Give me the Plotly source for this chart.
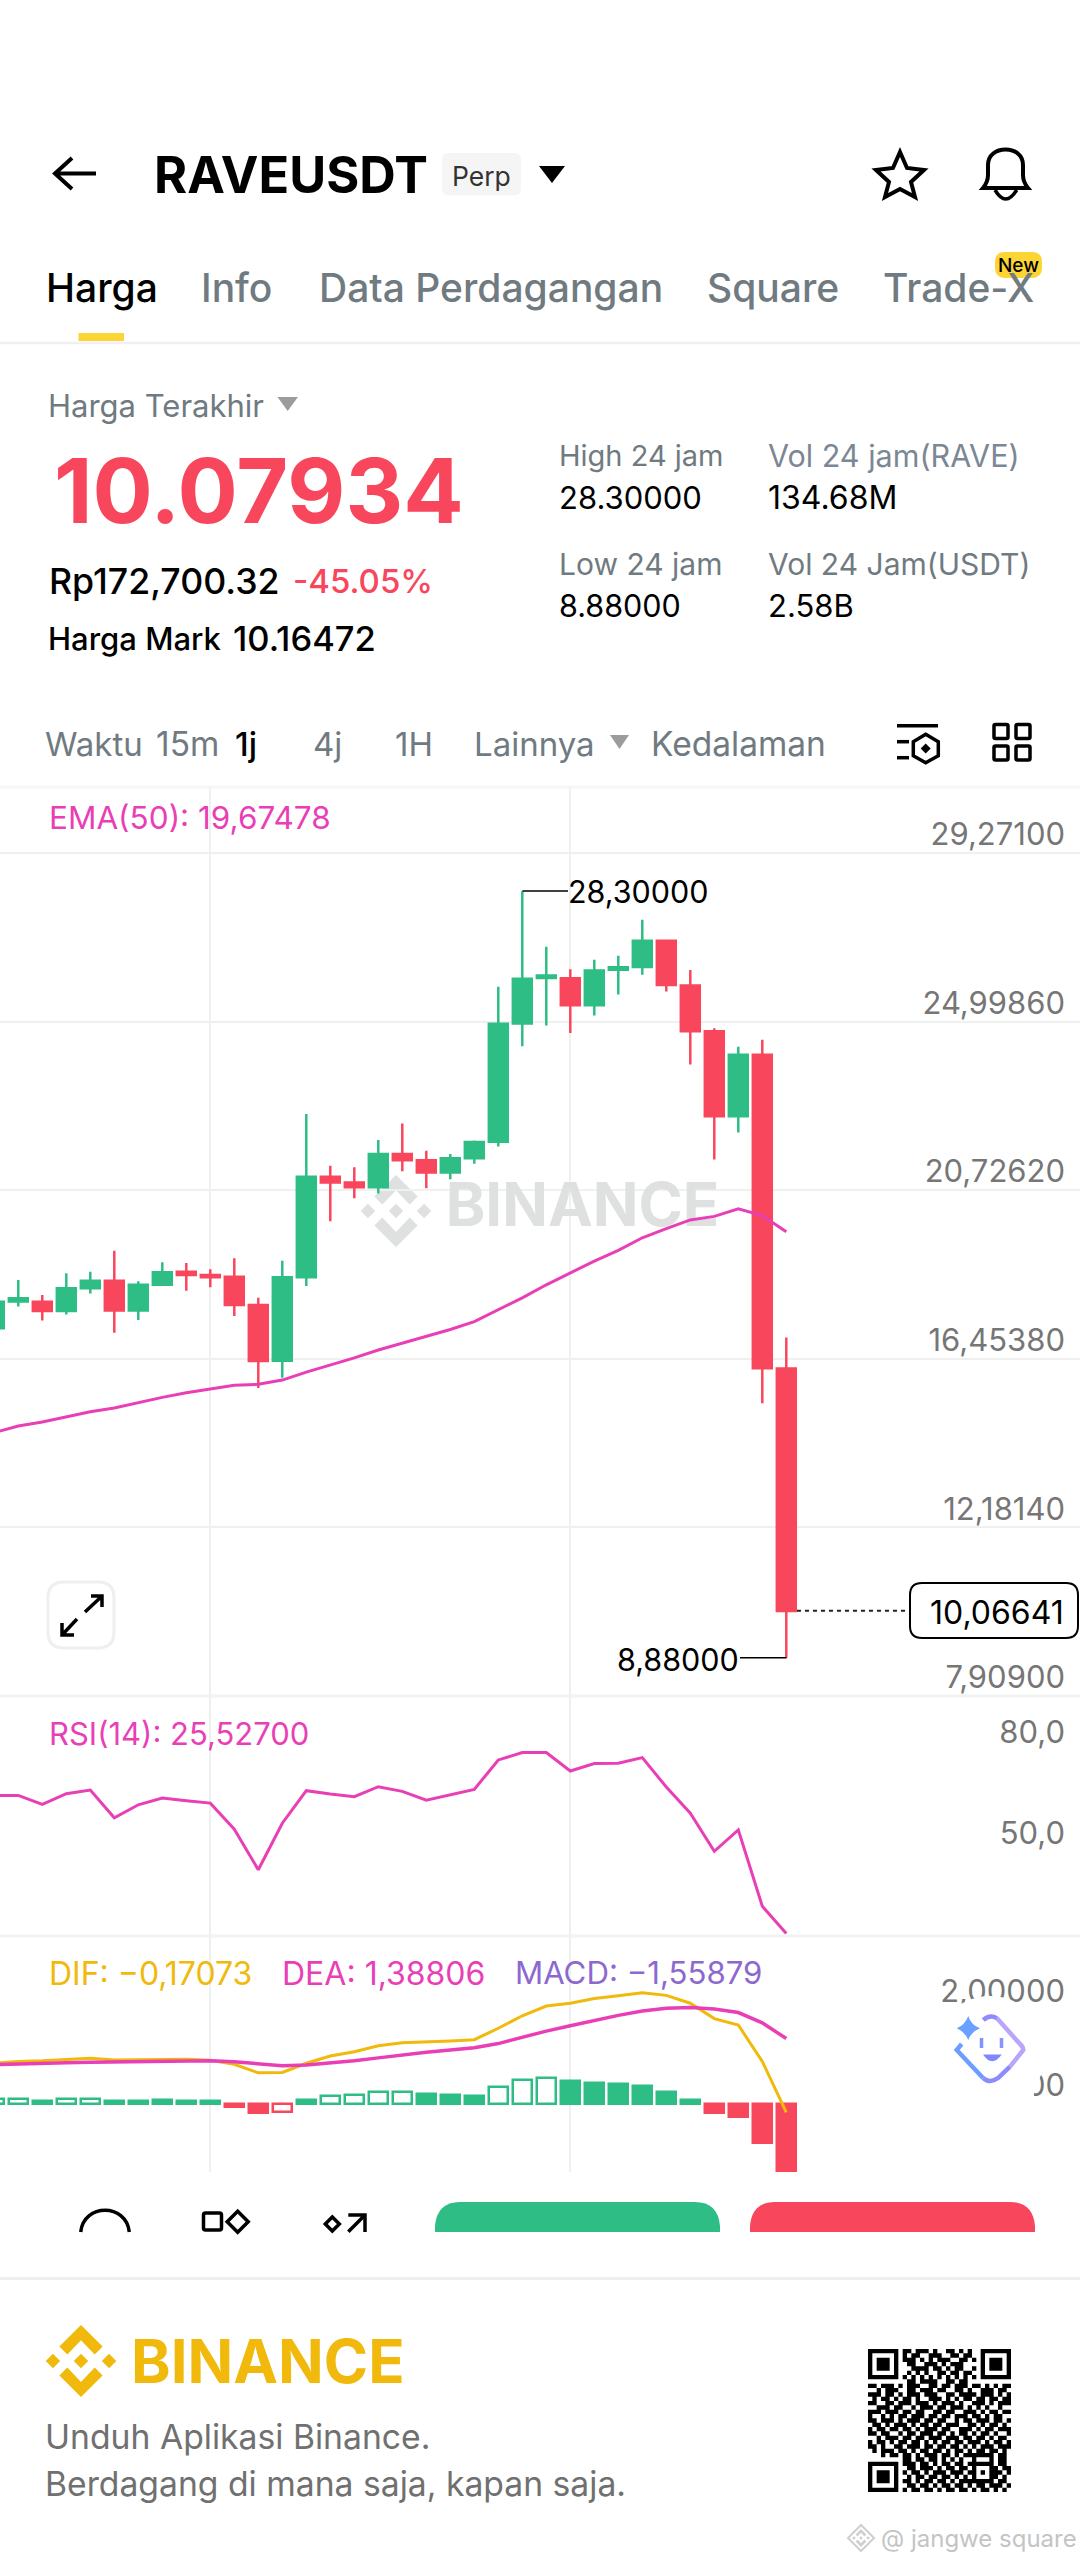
import re
import plotly.graph_objs as go
from plotly.subplots import make_subplots

W = 1080
H = 2562

# candles (values in USDT)
candle_idx = list(range(34))
candle_open = [17.227, 17.908, 17.898, 17.668, 18.239, 18.429, 17.678, 18.329, 18.66, 18.58, 18.53, 17.818,
               16.405, 18.519, 21.065, 20.924, 20.804, 21.646, 21.486, 21.175, 21.536, 21.956, 24.952, 26.105,
               26.095, 25.413, 26.315, 26.385, 27.047, 25.914, 24.752, 22.598, 24.161, 16.205]
candle_close = [17.898, 17.988, 17.668, 18.239, 18.429, 17.678, 18.329, 18.65, 18.58, 18.519, 17.818, 16.395,
                18.519, 21.065, 20.924, 20.804, 21.646, 21.486, 21.175, 21.536, 21.946, 24.942, 26.085, 26.165,
                25.413, 26.295, 26.375, 27.047, 25.924, 24.752, 22.598, 24.161, 16.215, 10.066]
candle_high = [18.0, 18.449, 18.069, 18.62, 18.66, 19.191, 18.419, 18.9, 18.88, 18.72, 19.0, 17.998,
               18.94, 22.658, 21.345, 21.305, 21.997, 22.417, 21.726, 21.646, 21.986, 25.884, 28.3, 26.896,
               26.325, 26.566, 26.666, 27.578, 27.047, 26.305, 24.832, 24.361, 24.541, 16.996]
candle_low = [17.0, 17.778, 17.427, 17.578, 18.109, 17.117, 17.437, 18.299, 18.179, 18.269, 17.538, 15.714,
              15.974, 18.299, 19.942, 20.524, 20.644, 21.205, 20.774, 21.005, 21.395, 21.836, 24.371, 24.902,
              24.712, 25.153, 25.684, 26.185, 25.764, 23.91, 21.506, 22.187, 15.33, 8.88]
ema50 = [14.585, 14.75, 14.851, 14.986, 15.112, 15.206, 15.351, 15.477, 15.594, 15.695, 15.781, 15.807,
         15.914, 16.115, 16.295, 16.476, 16.676, 16.856, 17.017, 17.197, 17.397, 17.698, 17.998, 18.329,
         18.63, 18.93, 19.2, 19.521, 19.752, 19.972, 20.063, 20.253, 20.083, 19.675]
rsi14 = [66.8, 66.8, 64.1, 67.3, 68.4, 60.1, 64.0, 66.0, 65.2, 64.5, 56.7, 44.6, 58.5, 68.2, 67.2, 66.4, 69.4,
         68.0, 65.4, 67.0, 68.6, 77.4, 79.6, 79.6, 74.1, 76.3, 76.4, 78.1, 69.3, 61.5, 50.1, 56.5, 33.7, 25.527]
dif = [0.867, 0.905, 0.92, 0.943, 0.973, 0.935, 0.935, 0.95, 0.95, 0.928, 0.845, 0.664, 0.671, 0.867, 1.018,
       1.109, 1.237, 1.297, 1.312, 1.335, 1.365, 1.606, 1.87, 2.074, 2.134, 2.232, 2.293, 2.353, 2.3, 2.134,
       1.81, 1.674, 0.905, -0.171]
dea = [0.837, 0.845, 0.86, 0.875, 0.89, 0.897, 0.905, 0.913, 0.92, 0.92, 0.897, 0.852, 0.814, 0.83, 0.867, 0.92,
       0.98, 1.048, 1.101, 1.146, 1.192, 1.282, 1.418, 1.546, 1.659, 1.772, 1.878, 1.968, 2.029, 2.044, 2.014,
       1.938, 1.719, 1.388]
macd = [0.106, 0.106, 0.06, 0.106, 0.106, 0.06, 0.06, 0.098, 0.06, 0.06, -0.06, -0.189, -0.166, 0.09, 0.166,
        0.204, 0.264, 0.264, 0.211, 0.189, 0.173, 0.362, 0.505, 0.558, 0.483, 0.46, 0.422, 0.385, 0.264, 0.083,
        -0.189, -0.271, -0.814, -1.55879]
macd_hollow = [1, 1, 0, 1, 1, 0, 0, 0, 0, 0, 0, 0, 1, 0, 1, 1, 1, 1, 0, 0, 0, 1, 1, 1, 0, 0, 0, 0, 0, 0, 0, 0, 0, 0]

price_ticks = [29.271, 24.9986, 20.7262, 16.4538, 12.1814, 7.909]
price_labels = ["29,27100", "24,99860", "20,72620", "16,45380", "12,18140", "7,90900"]
rsi_ticks = [80, 50]
rsi_labels = ["80,0", "50,0"]
macd_ticks = [2, 0]
macd_labels = ["2,00000", "0,00000"]
grid_idx = [9, 24]

qr_rows = [
    "111111101101110100110101001111111",
    "100000101011001110011011001000001",
    "101110101110101011100110101011101",
    "101110100110011101011100001011101",
    "101110100011110110101100101011101",
    "100000100101010011011011001000001",
    "111111101010101010101010101111111",
    "000000000110111100110110000000000",
    "110111010111001101101110110101011",
    "001011100110111011001101001110110",
    "111011010111011100110111101110101",
    "010110101101001110101011011011011",
    "110011011101110101110100111010111",
    "001110110010111011011101010100100",
    "111011101101100110110011101011011",
    "100101011011101101101110110101100",
    "110111010111011011001011011101101",
    "011010111010110110111001101011010",
    "101101101101011101100111010110111",
    "110110010110111011010110101101001",
    "001011101101101110111011011010110",
    "101101011011010101101101110101101",
    "110100110111011011011010101110111",
    "010111011010110110101101011011010",
    "000101101101011101101011111110110",
    "000000001101101101010100100010110",
    "111111101110110101101101111110110",
    "100000100110111010110110100011011",
    "101110101011010111011101101011101",
    "101110100101101101101010100011010",
    "101110101101011011010111111110110",
    "100000100110110101101101011011101",
    "111111101011011010110110101101010",
]

GREEN = "#2EBD85"
RED = "#F8465C"
PINK = "#E93FB6"
YELLOW = "#F0B90B"
PURPLE = "#8C68CF"
GRID = "#EFF1F1"
GREY = "#707A81"
AXIS_GREY = "#767676"
FONT = "Inter"


# pixel helpers, the whole page is one figure
def px(x):
    return x / W


def py(y):
    return 1 - y / H


def x_of(x):
    return (x + 5.7) / 24


def price_of(y):
    return 29.271 - (y - 853) / 39.46


def path(d):
    out = []
    n = 0
    for tok in re.findall(r"[MLQCZ]|-?[\d.]+", d):
        if tok in "MLQCZ":
            out.append(tok)
        else:
            out.append(f"{px(float(tok)):.5f}," if n % 2 == 0 else f"{py(float(tok)):.5f}")
            n += 1
    return " ".join(out).replace(", ", ",")


def rr(x0, y0, x1, y1, r):
    return (f"M {x0+r} {y0} L {x1-r} {y0} Q {x1} {y0} {x1} {y0+r} L {x1} {y1-r} Q {x1} {y1} {x1-r} {y1} "
            f"L {x0+r} {y1} Q {x0} {y1} {x0} {y1-r} L {x0} {y0+r} Q {x0} {y0} {x0+r} {y0} Z")


shapes = []
annots = []


def add(d, fill=None, line=None, width=0, layer="above", dash=None):
    s = dict(type="path", xref="paper", yref="paper", path=path(d), layer=layer,
             line=dict(color=line or "rgba(0,0,0,0)", width=width))
    if fill:
        s["fillcolor"] = fill
    if dash:
        s["line"]["dash"] = dash
    shapes.append(s)


def hline(x0, x1, y, color, width, dash=None):
    add(f"M {x0} {y} L {x1} {y}", line=color, width=width, dash=dash)


def diamond(cx, cy, r):
    return f"M {cx} {cy-r} L {cx+r} {cy} L {cx} {cy+r} L {cx-r} {cy} Z"


def logo(cx, cy, s, color, layer="above"):
    parts = [diamond(cx, cy, .2 * s), diamond(cx - .78 * s, cy, .2 * s), diamond(cx + .78 * s, cy, .2 * s)]
    for k in (1, -1):
        parts.append(f"M {cx} {cy-k*s} L {cx+.6*s} {cy-k*.4*s} L {cx+.38*s} {cy-k*.18*s} L {cx} {cy-k*.58*s} "
                     f"L {cx-.38*s} {cy-k*.18*s} L {cx-.6*s} {cy-k*.4*s} Z")
    add(" ".join(parts), fill=color, layer=layer)


def txt(text, x, y, size, color="#000000", anchor="left", weight=400):
    annots.append(dict(text=text, x=px(x), y=py(y), xref="paper", yref="paper", xanchor=anchor, yanchor="middle",
                       showarrow=False, borderpad=0, borderwidth=0,
                       font=dict(family=FONT, size=size, color=color, weight=weight)))


fig = make_subplots(rows=3, cols=1)

# watermark goes first so the lines sit on top of it
fig.add_trace(go.Scatter(x=[x_of(582.5)], y=[price_of(1211)], mode="text", text=["BINANCE"], hoverinfo="skip",
                         textfont=dict(family=FONT, size=60, color="#DEE1DF", weight=700)), row=1, col=1)
fig.add_trace(go.Candlestick(x=candle_idx, open=candle_open, high=candle_high, low=candle_low, close=candle_close,
                             increasing=dict(line=dict(color=GREEN, width=2.5), fillcolor=GREEN),
                             decreasing=dict(line=dict(color=RED, width=2.5), fillcolor=RED)), row=1, col=1)
fig.add_trace(go.Scatter(x=candle_idx, y=ema50, mode="lines", line=dict(color=PINK, width=3)), row=1, col=1)

fig.add_trace(go.Scatter(x=candle_idx, y=rsi14, mode="lines", line=dict(color=PINK, width=3)), row=2, col=1)

bar_line = [GREEN if v >= 0 else RED for v in macd]
bar_fill = ["#FFFFFF" if h else c for h, c in zip(macd_hollow, bar_line)]
fig.add_trace(go.Bar(x=candle_idx, y=macd, width=0.79,
                     marker=dict(color=bar_fill, line=dict(color=bar_line, width=2.5))), row=3, col=1)
fig.add_trace(go.Scatter(x=candle_idx, y=dif, mode="lines", line=dict(color=YELLOW, width=3)), row=3, col=1)
fig.add_trace(go.Scatter(x=candle_idx, y=dea, mode="lines", line=dict(color=PINK, width=3.5)), row=3, col=1)

x_common = dict(domain=[0, 1], range=[x_of(0), x_of(1080)], type="linear", tickmode="array", tickvals=grid_idx,
                showticklabels=False, ticks="", showgrid=True, gridcolor=GRID, gridwidth=2, zeroline=False,
                showline=False, rangeslider=dict(visible=False))
y_common = dict(side="right", tickmode="array", ticklabelposition="inside top", ticklabelstandoff=12,
                ticklabelshift=3, ticks="", zeroline=False, showline=False,
                tickfont=dict(family=FONT, size=31, color=AXIS_GREY))

fig.update_layout(
    width=W, height=H, autosize=False, margin=dict(l=0, r=0, t=0, b=0), showlegend=False,
    paper_bgcolor="#FFFFFF", plot_bgcolor="#FFFFFF", boxgap=0.21, boxgroupgap=0, bargap=0,
    xaxis=x_common, xaxis2=x_common, xaxis3=x_common,
    yaxis=dict(y_common, domain=[py(1696), py(788)], range=[7.909, price_of(788)], tickvals=price_ticks,
               ticktext=price_labels, showgrid=True, gridcolor=GRID, gridwidth=2),
    yaxis2=dict(y_common, domain=[py(1936), py(1696)], range=[24.8, 96.5], tickvals=rsi_ticks, ticktext=rsi_labels,
                showgrid=False),
    yaxis3=dict(y_common, domain=[py(2172), py(1936)], range=[-1.43, 3.554], tickvals=macd_ticks,
                ticktext=macd_labels, showgrid=False),
)

# header
add("M 96 173.5 L 56 173.5 M 72 158 L 55 173.5 L 72 189", line="#000000", width=4)
txt("RAVEUSDT", 154, 175, 50.5, weight=700)
add(rr(442, 153, 521, 195.5, 7), fill="#F5F5F5")
txt("Perp", 481.5, 176, 26.5, "#333333", "center")
add("M 539 166 L 565 166 L 552 183 Z", fill="#000000")
add("M 900 152 L 907 168 L 924 170 L 911 182 L 915 197 L 900 189 L 885 197 L 889 182 L 876 170 L 893 168 Z",
    line="#000000", width=4)
add("M 983 188 Q 988 182 988 175 L 988 165 C 988 155 996 149.5 1005.7 149.5 C 1015 149.5 1023 155 1023 165 "
    "L 1023 175 Q 1023 182 1028 188 Z", line="#000000", width=4)
add("M 995 190 Q 1005.7 208 1016.7 190", line="#000000", width=3.5)

# tabs
txt("Harga", 46, 287.5, 39, "#000000", weight=500)
txt("Info", 201, 287.5, 39, GREY, weight=500)
txt("Data Perdagangan", 318.5, 287.5, 39, GREY, weight=500)
txt("Square", 707, 287.5, 39, GREY, weight=500)
txt("Trade-X", 883, 287.5, 39, GREY, weight=500)
add(rr(995, 252, 1042, 278, 10), fill="#FCD535")
txt("New", 1018.5, 265.5, 19, "#000000", "center", 500)
add("M 78.5 333 L 124 333 L 124 341 L 78.5 341 Z", fill="#FCD535")
hline(0, 1080, 343, "#EEF0F1", 2.5)

# price block
txt("Harga Terakhir", 48, 405.7, 31, GREY)
add("M 277.5 397 L 298 397 L 287.7 411 Z", fill="#9C9C9C")
txt("10.07934", 54, 490, 89.5, RED, weight=700)
txt("Rp172,700.32", 49, 580.7, 35.7, "#000000", weight=500)
txt("-45.05%", 293, 580.7, 33, RED, weight=500)
txt("Harga Mark", 48, 638.7, 31, "#000000", weight=500)
txt("10.16472", 233, 638.7, 34.5, "#000000", weight=500)
txt("High 24 jam", 559, 455.5, 29, GREY)
txt("Vol 24 jam(RAVE)", 768, 455.5, 30.5, "#7B8794")
txt("28.30000", 559, 497.3, 31)
txt("134.68M", 768, 497.3, 32)
txt("Low 24 jam", 559, 564, 30, GREY)
txt("Vol 24 Jam(USDT)", 768, 564, 30, GREY)
txt("8.88000", 559, 605.5, 30.5)
txt("2.58B", 768, 605.5, 31)

# interval row
txt("Waktu", 45, 744.4, 33, GREY)
txt("15m", 156, 744.4, 33.5, GREY)
txt("1j", 235, 744.4, 33, "#000000", weight=500)
txt("4j", 313, 744.4, 33, GREY)
txt("1H", 395, 744.4, 33, GREY)
txt("Lainnya", 474, 744.4, 33, GREY)
add("M 610 735 L 629 735 L 619.5 749 Z", fill="#9C9C9C")
txt("Kedalaman", 651, 744.4, 33.5, GREY)
hline(897, 938, 725.7, "#000000", 3.5)
hline(897, 909, 741.7, "#000000", 3.5)
hline(897, 909, 757.7, "#000000", 3.5)
add("M 925.7 734.3 L 938.3 741.7 L 938.3 755.7 L 925.7 762.7 L 913.3 755.7 L 913.3 741.7 Z", line="#000000", width=3.5)
add(diamond(925.7, 748.5, 5), fill="#000000")
for gx in (994, 1016):
    for gy in (724.5, 746):
        add(rr(gx, gy, gx + 14, gy + 14, 1.5), line="#000000", width=3.5)

# panel separators
hline(0, 1080, 787, "#F5F6F6", 3)
hline(0, 1080, 1696, "#EFF3F2", 3)
hline(0, 1080, 1936, "#F0F3F3", 3)

# chart labels
txt("EMA(50): 19,67478", 49, 817.6, 31.5, PINK)
logo(396, 1211, 36, "#DEE1DF", "below")
hline(522.4, 568, 891, "#000000", 1.5)
txt("28,30000", 568, 891.5, 30.5)
hline(740, 786.6, 1657.7, "#000000", 1.5)
txt("8,88000", 739, 1659, 30.5, anchor="right")
hline(797, 910, 1610.7, "#222222", 2, dash="4px,4px")
add(rr(910, 1583, 1078, 1638, 12), fill="#FFFFFF", line="#000000", width=2)
txt("10,06641", 1064, 1612, 32, anchor="right")
add(rr(48, 1582, 114, 1648, 16), fill="#FFFFFF", line="#EFEFEF", width=3)
add("M 85 1612 L 101 1597 M 91 1596 L 102 1596 L 102 1607", line="#000000", width=3.5)
add("M 77 1619 L 63 1634 M 62 1623 L 62 1635 L 74 1635", line="#000000", width=3.5)
txt("RSI(14): 25,52700", 49, 1733.6, 31, PINK)
txt("DIF: \u22120,17073", 49, 1973, 32, YELLOW)
txt("DEA: 1,38806", 282, 1973, 32, PINK)
txt("MACD: \u22121,55879", 515, 1973, 31.2, PURPLE)

# assistant button, it hides part of the MACD axis labels
shapes.append(dict(type="circle", xref="paper", yref="paper", x0=px(934), x1=px(1046), y0=py(2108), y1=py(1996),
                   fillcolor="#FFFFFF", line=dict(width=0), layer="above"))
add("M 920 2060 L 1034 2060 L 1034 2108 L 920 2108 Z", fill="#FFFFFF")
add("M 961.7 2044 L 956.7 2050 L 983 2078", line="#6C9EFF", width=4.5)
add("M 983 2078 Q 990 2084 998 2078 L 1010 2066.7", line="#8C8CFF", width=4.5)
add("M 1010 2066.7 L 1023.3 2050 Q 1023.3 2047 1020 2044 L 997 2018.3", line="#B9A6FA", width=4.5)
add("M 997 2018.3 Q 990 2014 983.3 2020", line="#8C8CFF", width=4.5)
add("M 968.3 2016 Q 971 2025 980 2028.3 Q 971 2032 968.3 2040 Q 965 2032 956.7 2028.3 Q 965 2025 968.3 2016 Z",
    fill="#6AA0FF")
add("M 981.5 2038 L 981.5 2048", line="#7F93FF", width=3.5)
add("M 1001.5 2038 L 1001.5 2048", line="#8A93FF", width=3.5)
add("M 983 2054.5 L 1001.7 2054.5 Q 992 2068 983 2054.5 Z", fill="#8088FF")

# bottom toolbar
add("M 80.7 2232 C 84 2203 126 2203 129.3 2232", line="#000000", width=3.5)
add(rr(203.5, 2213, 221.5, 2230, 2), line="#000000", width=3.5)
add(diamond(237.7, 2221.7, 10.5), line="#000000", width=3.5)
add(diamond(332.3, 2224, 7), line="#000000", width=3.5)
add("M 348.3 2231.7 L 365 2215 M 348.3 2215 L 365 2215 L 365 2232", line="#000000", width=3.5)
add("M 435 2232 L 435 2226 Q 437 2202 460 2202 L 695 2202 Q 718 2202 720 2226 L 720 2232 Z", fill=GREEN)
add("M 750 2232 L 750 2226 Q 752 2202 775 2202 L 1010 2202 Q 1033 2202 1035 2226 L 1035 2232 Z", fill=RED)
hline(0, 1080, 2278.5, "#EEEEEE", 3)

# footer
logo(81, 2361, 36, YELLOW)
txt("BINANCE", 131, 2361, 60, YELLOW, weight=700)
txt("Unduh Aplikasi Binance.", 45, 2436.7, 33.7, "#707070")
txt("Berdagang di mana saja, kapan saja.", 45, 2483, 33.7, "#707070")
cell = 143 / len(qr_rows)
qr = []
for r, row in enumerate(qr_rows):
    for c, v in enumerate(row):
        if v == "1":
            x0, y0 = 868 + c * cell, 2349 + r * cell
            qr.append(f"M {x0} {y0} L {x0+cell} {y0} L {x0+cell} {y0+cell} L {x0} {y0+cell} Z")
add(" ".join(qr), fill="#000000")
add(diamond(861, 2538, 13), line="#CFCFCF", width=2)
logo(861, 2538, 9, "#CFCFCF")
txt("@ jangwe square", 881, 2538, 24, "#C4C4C4")

fig.update_layout(shapes=shapes, annotations=annots)
fig.write_html("out.html", config={"displayModeBar": False}, post_script="document.body.style.margin='0'")
